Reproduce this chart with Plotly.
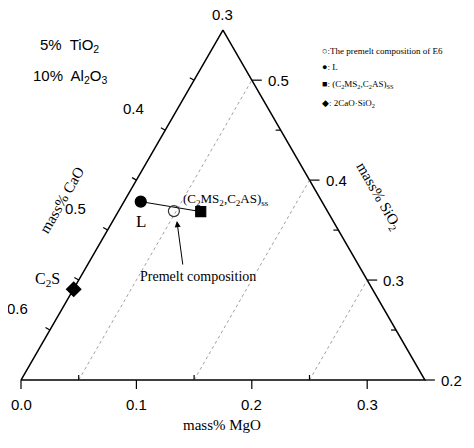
import plotly.graph_objects as go
import math

TOTAL = 0.85
SIO2_MIN = 0.2
# point compositions (mass fractions)
point_names = ["L", "Premelt", "C2MS2-C2AS ss", "C2S"]
point_mgo = [0.0145, 0.048, 0.0715, 0.0003]
point_cao = [0.457, 0.433, 0.410, 0.559]
mgo_ticks = [0.0, 0.1, 0.2, 0.3]
cao_ticks = [0.4, 0.5, 0.6]
sio2_ticks = [0.5, 0.4, 0.3, 0.2]
grid_mgo = [0.05, 0.15, 0.25]

H = math.sqrt(3) / 2

def xy(m, c):
    s = TOTAL - m - c
    return m + (s - SIO2_MIN) * 0.5, (s - SIO2_MIN) * H

fig = go.Figure()
line = dict(color="black", width=1.5)
cx, cy = zip(*[xy(0, 0.65), xy(0.35, 0.3), xy(0, 0.3), xy(0, 0.65)])
fig.add_trace(go.Scatter(x=cx, y=cy, mode="lines", line=line, hoverinfo="skip"))
for g in grid_mgo:
    a = xy(g, 0.65 - g); b = xy(g, 0.3)
    fig.add_trace(go.Scatter(x=[a[0], b[0]], y=[a[1], b[1]], mode="lines",
                             line=dict(color="#888", width=0.8, dash="dot"), hoverinfo="skip"))
u = 1 / 1154  # data units per pixel
ticks_x, ticks_y = [], []
for i in range(8):
    m = i * 0.05
    if m > 0.35: break
    p = xy(m, 0.65 - m)
    d = -9 * u if i % 2 == 0 else 5 * u
    ticks_x += [p[0], p[0], None]; ticks_y += [p[1], p[1] + d, None]
for c in [0.35, 0.4, 0.45, 0.5, 0.55, 0.6]:
    p = xy(0, c)
    ticks_x += [p[0], p[0] - 5 * u * H, None]; ticks_y += [p[1], p[1] + 5 * u * 0.5, None]
for s in [0.5, 0.45, 0.4, 0.35, 0.3, 0.25, 0.2]:
    m = 0.55 - s; p = xy(m, 0.3)
    major = abs(round(s * 10) - s * 10) < 1e-6
    if major:
        ticks_x += [p[0], p[0] + 10 * u, None]; ticks_y += [p[1], p[1], None]
    else:
        ticks_x += [p[0], p[0] - 5 * u, None]; ticks_y += [p[1], p[1], None]
fig.add_trace(go.Scatter(x=ticks_x, y=ticks_y, mode="lines", line=dict(color="black", width=1.2), hoverinfo="skip"))

pL = xy(point_mgo[0], point_cao[0]); pS = xy(point_mgo[2], point_cao[2])
fig.add_trace(go.Scatter(x=[pL[0], pS[0]], y=[pL[1], pS[1]], mode="lines", line=dict(color="black", width=1), hoverinfo="skip"))
pts = [xy(m, c) for m, c in zip(point_mgo, point_cao)]
symbols = ["circle", "circle-open", "square", "diamond"]
sizes = [11, 11, 10, 11]
for (px, py), sym, sz in zip(pts, symbols, sizes):
    fig.add_trace(go.Scatter(x=[px], y=[py], mode="markers",
                             marker=dict(symbol=sym, size=sz, color="black" if sym != "circle-open" else "#333",
                                         line=dict(color="black", width=1.2)),
                             hoverinfo="skip"))

sans = dict(family="Liberation Sans", size=15, color="black")
serif = dict(family="Liberation Serif", size=15, color="black")
ann = []
for m in mgo_ticks:
    p = xy(m, 0.65 - m)
    ann.append(dict(x=p[0], y=p[1] - 24 * u, text=f"{m:.1f}", showarrow=False, font=sans))
for c in cao_ticks:
    p = xy(0, c)
    ann.append(dict(x=p[0] - 32 * u, y=p[1] + 22 * u, text=f"{c:.1f}", showarrow=False, font=sans))
for s in sio2_ticks:
    p = xy(0.55 - s, 0.3)
    ann.append(dict(x=p[0] + 14 * u, y=p[1], text=f"{s:.1f}", showarrow=False, font=sans, xanchor="left"))
apex = xy(0, 0.3)
ann.append(dict(x=apex[0], y=apex[1] + 16 * u, text="0.3", showarrow=False, font=sans))
ann.append(dict(x=(222 - 21) * u, y=(380 - 425) * u, text="mass% MgO", showarrow=False, font=serif))
ann.append(dict(x=(62 - 21) * u, y=(380 - 200) * u, text="mass% CaO", showarrow=False, font=serif, textangle=-60))
ann.append(dict(x=(378 - 21) * u, y=(380 - 196) * u, text="mass% SiO<sub>2</sub>", showarrow=False, font=serif, textangle=60))
ann.append(dict(x=(38 - 21) * u, y=(380 - 45) * u, text="5%  TiO<sub>2</sub>", showarrow=False, font=sans, xanchor="left"))
ann.append(dict(x=(31 - 21) * u, y=(380 - 76) * u, text="10%  Al<sub>2</sub>O<sub>3</sub>", showarrow=False, font=sans, xanchor="left"))
ann.append(dict(x=pts[0][0], y=pts[0][1] - 20 * u, text="L", showarrow=False, font=dict(family="Liberation Serif", size=17, color="black")))
ann.append(dict(x=pts[3][0] - 12 * u, y=pts[3][1] + 10 * u, text="C<sub>2</sub>S", showarrow=False,
                font=dict(family="Liberation Serif", size=16, color="black"), xanchor="right"))
ann.append(dict(x=(181 - 21) * u, y=(380 - 199) * u, text="(C<sub>2</sub>MS<sub>2</sub>,C<sub>2</sub>AS)<sub>ss</sub>", showarrow=False,
                font=dict(family="Liberation Serif", size=13, color="black"), xanchor="left"))
ann.append(dict(x=pts[1][0] + 3 * u, y=pts[1][1] - 10 * u, ax=(183 - 21) * u, ay=(380 - 266) * u, axref="x", ayref="y",
                text="", showarrow=True, arrowhead=2, arrowsize=1.2, arrowwidth=1, arrowcolor="black"))
ann.append(dict(x=(198 - 21) * u, y=(380 - 276) * u, text="Premelt composition", showarrow=False,
                font=dict(family="Liberation Serif", size=14, color="black")))
legend = ["○:The premelt composition of E6", "●: L", "■: (C<sub>2</sub>MS<sub>2</sub>,C<sub>2</sub>AS)<sub>SS</sub>", "◆: 2CaO·SiO<sub>2</sub>"]
for t, yy in zip(legend, [51, 67, 84, 103]):
    ann.append(dict(x=(320 - 21) * u, y=(380 - yy) * u, text=t, showarrow=False, xanchor="left",
                    font=dict(family="Liberation Serif", size=9, color="black")))
fig.update_layout(annotations=ann)

OFF = 8  # page body margin
fig.update_layout(width=474 - OFF, height=448 - OFF, margin=dict(l=0, r=0, t=0, b=0), showlegend=False,
                  font=dict(color="black"),
                  plot_bgcolor="white", paper_bgcolor="white",
                  xaxis=dict(range=[(OFF - 21) * u, (474 - 21) * u], visible=False, fixedrange=True),
                  yaxis=dict(range=[(380 - 448) * u, (380 - OFF) * u], visible=False, fixedrange=True))
fig.write_html("out.html")
